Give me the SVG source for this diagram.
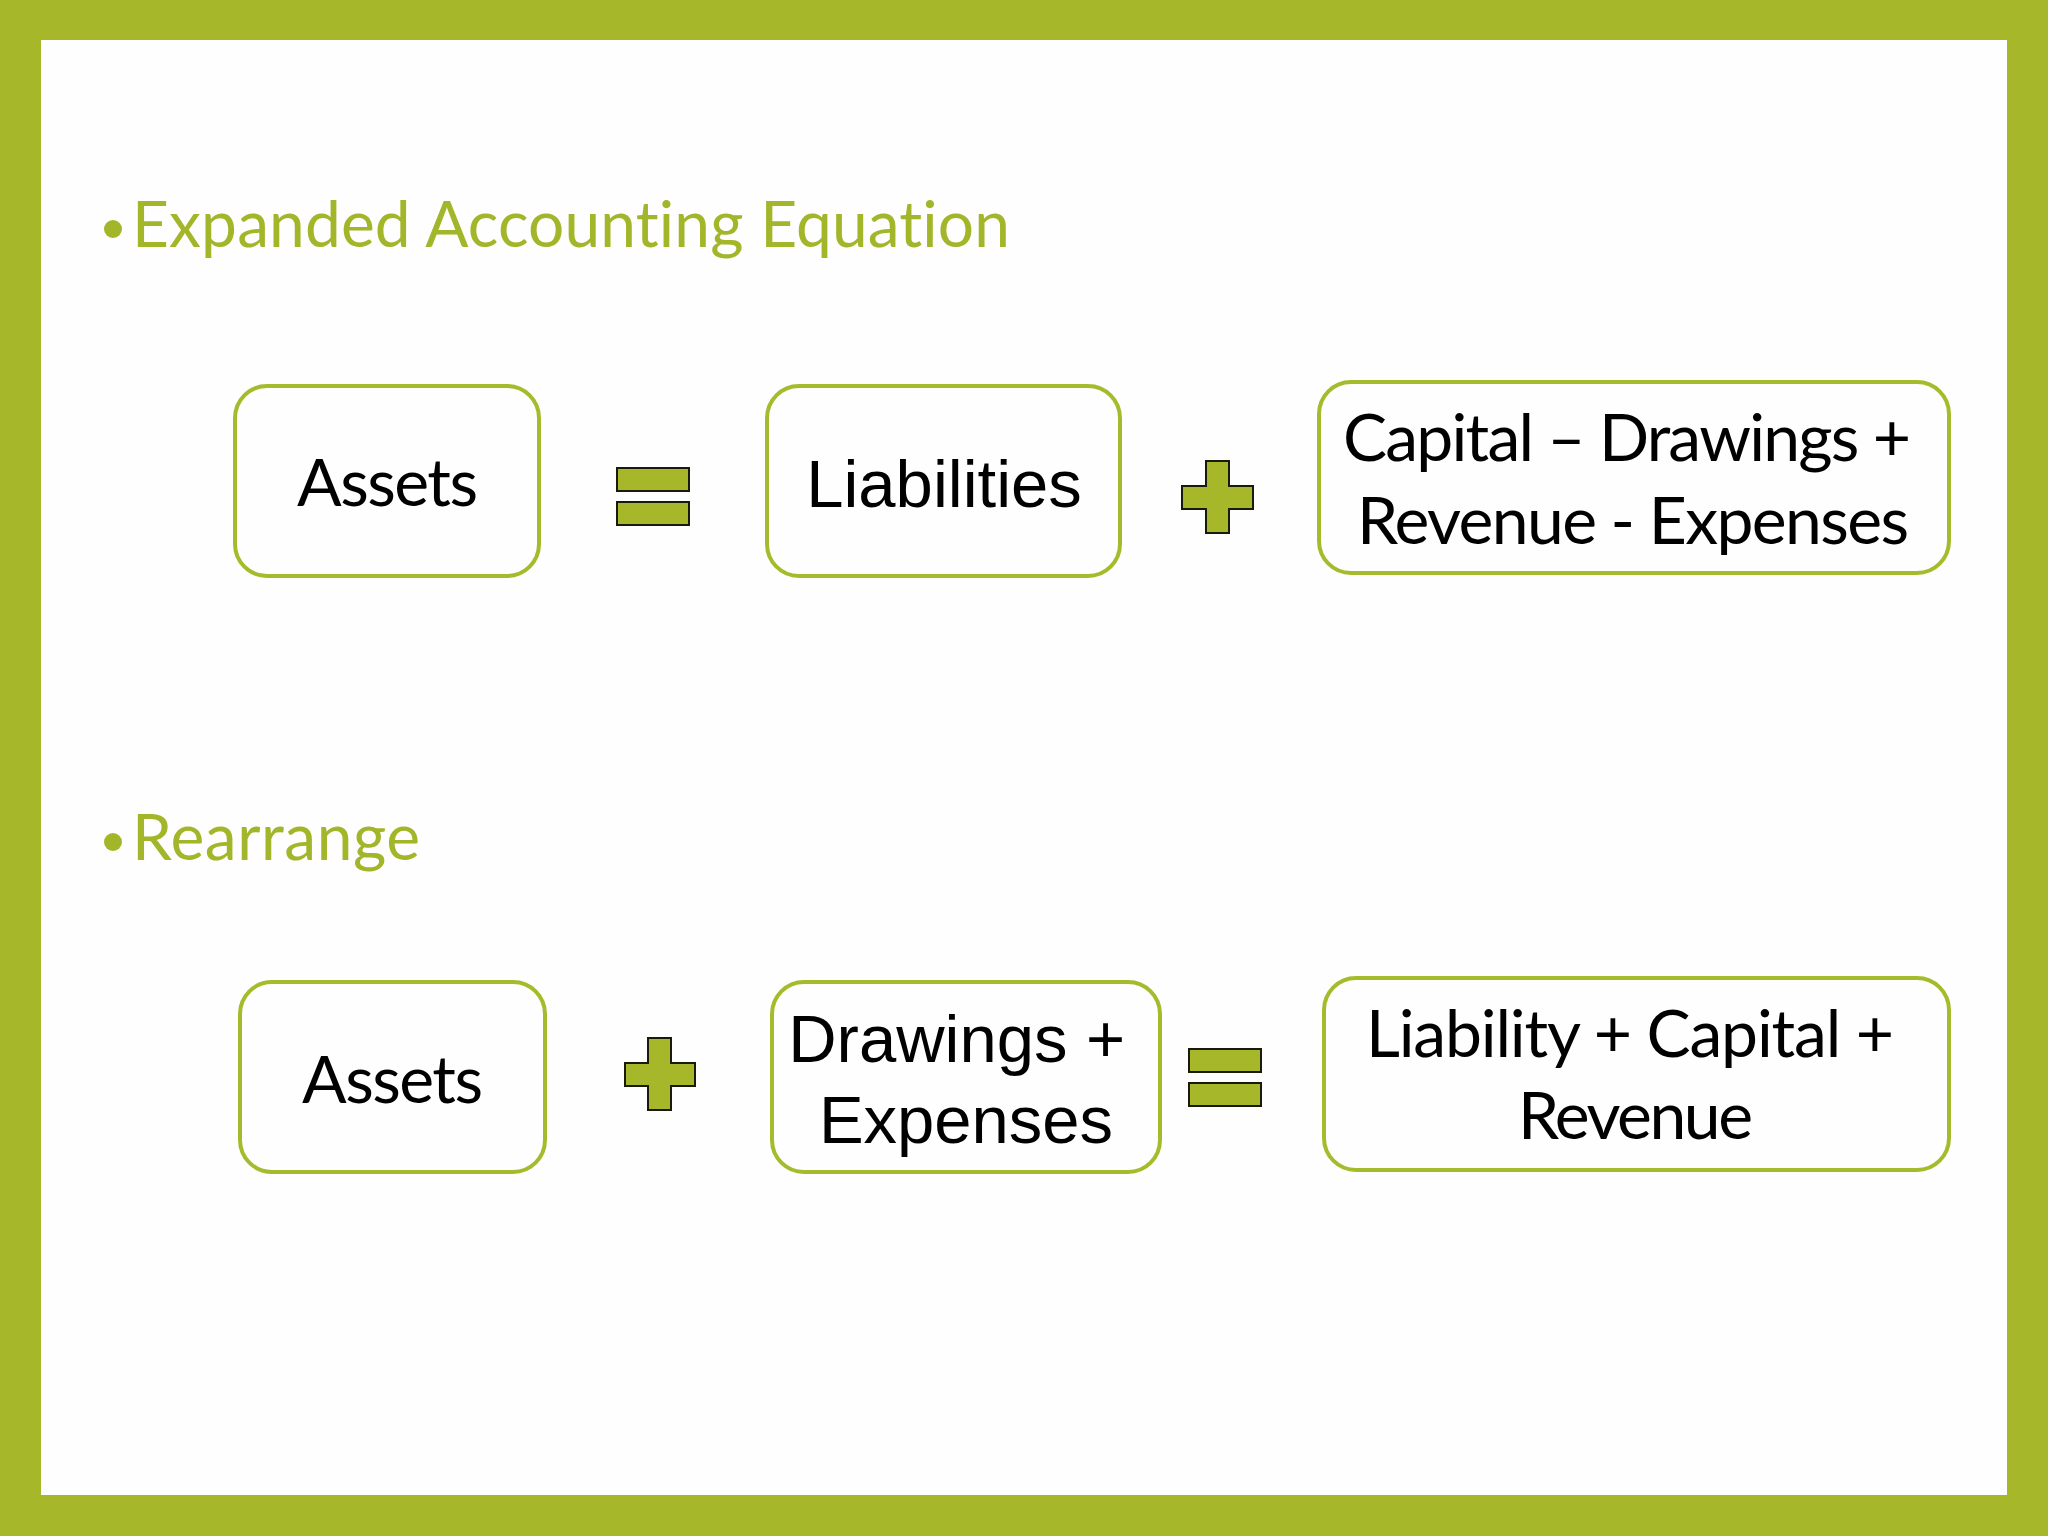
<svg xmlns="http://www.w3.org/2000/svg" width="2048" height="1536" viewBox="0 0 2048 1536">
<style>
.box{fill:#fefefe;stroke:#a6bb2c;stroke-width:4}
.op{fill:#a6b82a;stroke:#1a1a0a;stroke-width:2}
.cal{font-family:Lato,"Open Sans",sans-serif;fill:#000;font-variant-ligatures:none}
.ari{font-family:"Liberation Sans",Arial,sans-serif;fill:#000;font-size:67px}
.head{font-family:Lato,"Open Sans",sans-serif;fill:#a3b62a;font-size:64px;font-variant-ligatures:none}
</style>
<rect x="0" y="0" width="2048" height="1536" fill="#a7b72a"/>
<rect x="41" y="40" width="1966" height="1455" fill="#fefefe"/>
<g id="heading1">
<circle cx="113" cy="229" r="9" fill="#a3b62a"/>
<text class="head" x="132" y="247" textLength="878">Expanded Accounting Equation</text>
</g>
<g id="heading2">
<circle cx="113" cy="842" r="9" fill="#a3b62a"/>
<text class="head" x="132" y="860" textLength="288">Rearrange</text>
</g>
<g id="top-assets">
<rect class="box" x="235" y="386" width="304" height="190" rx="32"/>
<text class="cal" x="297" y="506" font-size="66" textLength="181">Assets</text>
</g>
<g id="top-equals">
<rect class="op" x="617" y="468" width="72" height="23"/>
<rect class="op" x="617" y="502" width="72" height="23"/>
</g>
<g id="top-liabilities">
<rect class="box" x="767" y="386" width="353" height="190" rx="32"/>
<text class="ari" x="944" y="507" text-anchor="middle">Liabilities</text>
</g>
<g id="top-plus">
<path class="op" d="M1206,461 H1229 V486 H1253 V509 H1229 V533 H1206 V509 H1182 V486 H1206 Z"/>
</g>
<g id="top-capital">
<rect class="box" x="1319" y="382" width="630" height="191" rx="32"/>
<text class="cal" x="1343" y="461" font-size="66" textLength="568">Capital – Drawings +</text>
<text class="cal" x="1357" y="544" font-size="66" textLength="552">Revenue - Expenses</text>
</g>
<g id="bottom-assets">
<rect class="box" x="240" y="982" width="305" height="190" rx="32"/>
<text class="cal" x="302" y="1103" font-size="66" textLength="181">Assets</text>
</g>
<g id="bottom-plus">
<path class="op" d="M648,1038 H671 V1063 H695 V1086 H671 V1110 H648 V1086 H625 V1063 H648 Z"/>
</g>
<g id="bottom-drawings">
<rect class="box" x="772" y="982" width="388" height="190" rx="32"/>
<text class="ari" x="966" y="1062" text-anchor="middle" xml:space="preserve">Drawings + </text>
<text class="ari" x="966" y="1143" text-anchor="middle">Expenses</text>
</g>
<g id="bottom-equals">
<rect class="op" x="1189" y="1049" width="72" height="23"/>
<rect class="op" x="1189" y="1083" width="72" height="23"/>
</g>
<g id="bottom-liability">
<rect class="box" x="1324" y="978" width="625" height="192" rx="32"/>
<text class="cal" x="1366" y="1057" font-size="66" textLength="528">Liability + Capital +</text>
<text class="cal" x="1518" y="1139" font-size="66" textLength="235">Revenue</text>
</g>
<g id="connectors"></g>
</svg>
